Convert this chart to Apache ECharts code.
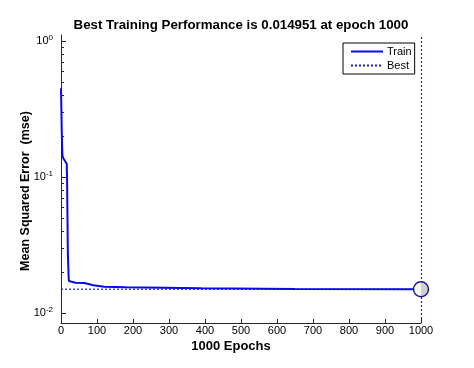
<!DOCTYPE html>
<html>
<head>
<meta charset="utf-8">
<script src="https://cdn.jsdelivr.net/npm/echarts@6/dist/echarts.min.js"></script>
<style>html,body{margin:0;padding:0;background:#fff}#c{width:474px;height:368px}</style>
</head>
<body>
<div id="c"></div>
<script>
var titleText = 'Best Training Performance is 0.014951 at epoch 1000';
var xName = '1000 Epochs';
var yName = 'Mean Squared Error  (mse)';
var xTicks = [0,100,200,300,400,500,600,700,800,900,1000];
var yMajorTicks = [1, 0.1, 0.01];
var yMinorTicks = [0.02,0.03,0.04,0.05,0.06,0.07,0.08,0.09,0.2,0.3,0.4,0.5,0.6,0.7,0.8,0.9];
var trainEpochs = [0,1,2,3,4,5,8,12,15,16,17,18,19,20,21,22,25,40,65,68,90,95,120,125,180,185,390,395,650,655,1000];
var trainMse = [0.45,0.32,0.22,0.17,0.145,0.14,0.135,0.13,0.128,0.125,0.09,0.05,0.028,0.023,0.019,0.0172,0.0168,0.0167,0.0166,0.0161,0.0160,0.0157,0.0156,0.01548,0.01545,0.0153,0.0152,0.01505,0.0150,0.01496,0.014951];
var bestEpoch = 1000;
var bestMse = 0.014951;
var seriesNames = ['Train', 'Best'];

var yMin = 0.00844, yMax = 1.107;
var font = 'Arial, "Liberation Sans", sans-serif';
var bestColor = '#1c1cc8';
var trainColor = '#0a0ae6';
var trainData = trainEpochs.map(function (e, i) { return [e, trainMse[i]]; });

var chart = echarts.init(document.getElementById('c'), null, {renderer: 'canvas'});
chart.setOption({
  animation: false,
  backgroundColor: '#fff',
  title: {
    text: titleText, left: 236, top: 14, textAlign: 'center',
    textStyle: {fontFamily: font, fontSize: 13.3, fontWeight: 'bold', color: '#000'}
  },
  legend: {
    data: seriesNames,
    orient: 'vertical', left: 343, top: 43,
    padding: [3, 3, 3, 7], itemGap: 3, itemWidth: 32, itemHeight: 12,
    backgroundColor: '#fff', borderColor: '#000', borderWidth: 1,
    itemStyle: {color: 'transparent', borderWidth: 0, opacity: 0},
    textStyle: {fontFamily: font, fontSize: 11, color: '#000', padding: [0,0,0,-1]}
  },
  grid: {left: 61, right: 53, top: 35, bottom: 45, containLabel: false},
  xAxis: {
    type: 'value', min: 0, max: 1000, interval: 100,
    name: xName, nameLocation: 'middle', nameGap: 17, nameMoveOverlap: false,
    nameTextStyle: {fontFamily: font, fontSize: 13, fontWeight: 'bold', color: '#000', padding: [0, 20, 0, 0]},
    axisLine: {lineStyle: {color: '#262626', width: 1}},
    axisTick: {inside: true, length: 4, lineStyle: {color: '#262626'}},
    axisLabel: {fontFamily: font, fontSize: 11, color: '#000', margin: 2, formatter: function (v) { return String(v); }},
    splitLine: {show: false}
  },
  yAxis: [{
    type: 'log', min: yMin, max: yMax,
    name: yName, nameLocation: 'middle', nameGap: 29, nameRotate: 90, nameMoveOverlap: false,
    nameTextStyle: {fontFamily: font, fontSize: 12.5, fontWeight: 'bold', color: '#000', padding: [0, 24, 0, 0]},
    axisLine: {show: true, lineStyle: {color: '#262626', width: 1}},
    axisTick: {show: true, inside: true, length: 5, customValues: yMajorTicks, lineStyle: {color: '#262626'}},
    axisLabel: {
      customValues: yMajorTicks, margin: 8,
      formatter: function (v) {
        var e = Math.round(Math.log10(v));
        return '{b|10}{s|' + e + '}';
      },
      rich: {
        b: {fontFamily: font, fontSize: 11, color: '#000', lineHeight: 14},
        s: {fontFamily: font, fontSize: 8, color: '#000', verticalAlign: 'top', lineHeight: 8, padding: [0,0,6,0]}
      }
    },
    splitLine: {show: false}
  }, {
    type: 'log', min: yMin, max: yMax, position: 'left',
    axisLine: {show: false},
    axisTick: {show: true, inside: true, length: 3, customValues: yMinorTicks, lineStyle: {color: '#262626'}},
    axisLabel: {show: false},
    splitLine: {show: false}
  }],
  series: [{
    name: seriesNames[0], type: 'line', data: trainData,
    showSymbol: false, symbol: 'none', clip: true, z: 3,
    lineStyle: {color: trainColor, width: 2}, itemStyle: {color: trainColor}
  }, {
    name: seriesNames[1], type: 'line',
    data: [[0, bestMse], [bestEpoch, bestMse]],
    showSymbol: false, symbol: 'none', z: 2,
    lineStyle: {color: bestColor, width: 1.2, type: [2, 2]}, itemStyle: {color: bestColor},
    markLine: {
      silent: true, symbol: ['none', 'none'], label: {show: false},
      lineStyle: {color: bestColor, width: 1.2, type: [2, 2], opacity: 1},
      emphasis: {disabled: true},
      data: [{xAxis: bestEpoch}]
    }
  }, {
    name: 'marker', type: 'scatter', data: [[bestEpoch, bestMse]],
    symbol: 'circle', symbolSize: 15, z: 5, clip: false,
    itemStyle: {
      color: {type: 'linear', x: 0, y: 0, x2: 1, y2: 0, colorStops: [
        {offset: 0, color: '#ffffff'}, {offset: 0.5, color: '#f4f4f4'},
        {offset: 0.5, color: '#d0d0d0'}, {offset: 1, color: '#d0d0d0'}]},
      borderColor: '#1a1a8c', borderWidth: 1.5, opacity: 1
    }
  }]
});
</script>
</body>
</html>
